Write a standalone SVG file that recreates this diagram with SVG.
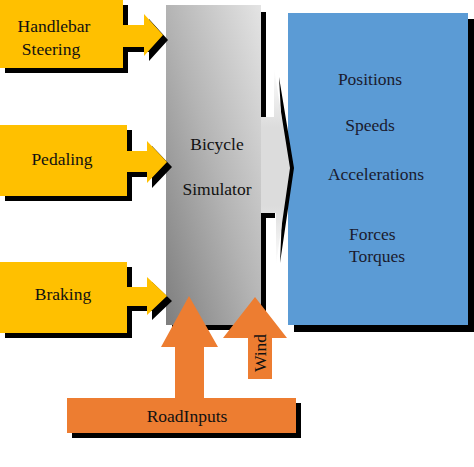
<svg xmlns="http://www.w3.org/2000/svg" width="474" height="467" viewBox="0 0 474 467">
<defs>
<linearGradient id="gray" x1="0" y1="1" x2="1" y2="0">
<stop offset="0" stop-color="#7e7e7e"/>
<stop offset="0.5" stop-color="#b4b4b4"/>
<stop offset="1" stop-color="#e4e4e4"/>
</linearGradient>
<linearGradient id="out" x1="0" y1="0" x2="0" y2="1">
<stop offset="0" stop-color="#ffffff"/>
<stop offset="0.3" stop-color="#dcdcdc"/>
<stop offset="0.7" stop-color="#dcdcdc"/>
<stop offset="1" stop-color="#ffffff"/>
</linearGradient>
<style>
text{font-family:'Liberation Serif','DejaVu Serif',serif;font-size:17.5px}
.t{fill:#111}
.tb{fill:#1a1a2e}
.yel{fill:#ffc000}
.ora{fill:#ed7d31}
.sh{fill:#000}
</style>
</defs>
<rect width="474" height="467" fill="#fff"/>

<g id="outputs">
<rect class="sh" x="294" y="19" width="180" height="313"/>
<rect x="288" y="13" width="180" height="312" fill="#5b9bd5"/>
<text class="tb" font-family="Liberation Serif, serif" x="370" y="85" text-anchor="middle">Positions</text>
<text class="tb" font-family="Liberation Serif, serif" x="370" y="131" text-anchor="middle">Speeds</text>
<text class="tb" font-family="Liberation Serif, serif" x="376" y="180" text-anchor="middle">Accelerations</text>
<text class="tb" font-family="Liberation Serif, serif" x="349" y="240">Forces</text>
<text class="tb" font-family="Liberation Serif, serif" x="349" y="262">Torques</text>
</g>

<g id="simulator">
<rect class="sh" x="172" y="12" width="94" height="318"/>
<rect x="166" y="5" width="95" height="320" fill="url(#gray)"/>
<text class="t" font-family="Liberation Serif, serif" x="217" y="150" text-anchor="middle">Bicycle</text>
<text class="t" font-family="Liberation Serif, serif" x="217" y="195" text-anchor="middle">Simulator</text>
</g>

<g id="connectors">
<rect x="261" y="117" width="14" height="96" fill="#fff"/>
<polygon class="sh" points="279,77 294,168 280,263 284,168"/>
<polygon fill="url(#out)" points="261,117 274,117 274,68 290,168 276,265 276,213 261,213"/>
<rect class="sh" x="261" y="213" width="14" height="5"/>
</g>

<g id="steering">
<polygon class="sh" points="5,5 128,5 128,30 149,30 149,19 168,40 149,61 149,52 128,52 128,73 5,73"/>
<polygon class="yel" points="0,0 123,0 123,25 144,25 144,14 163,35 144,56 144,47 123,47 123,68 0,68"/>
<text class="t" font-family="Liberation Serif, serif" x="54" y="32" text-anchor="middle">Handlebar</text>
<text class="t" font-family="Liberation Serif, serif" x="51" y="55" text-anchor="middle">Steering</text>
</g>

<g id="pedaling">
<polygon class="sh" points="5,130 132,130 132,156 152,156 152,146 172,167 152,188 152,177 132,177 132,201 5,201"/>
<polygon class="yel" points="0,125 127,125 127,151 147,151 147,141 167,162 147,183 147,172 127,172 127,196 0,196"/>
<text class="t" font-family="Liberation Serif, serif" x="62" y="165" text-anchor="middle">Pedaling</text>
</g>

<g id="braking">
<polygon class="sh" points="5,267 132,267 132,292 152,292 152,282 172,301 152,320 152,311 132,311 132,338 5,338"/>
<polygon class="yel" points="0,262 127,262 127,287 147,287 147,277 167,296 147,315 147,306 127,306 127,333 0,333"/>
<text class="t" font-family="Liberation Serif, serif" x="63" y="300" text-anchor="middle">Braking</text>
</g>

<g id="road">
<rect class="sh" x="72" y="403" width="229" height="35"/>
<rect class="ora" x="67" y="398" width="229" height="35"/>
<polygon class="ora" points="175,399 175,347 161,347 189,296 218,347 204,347 204,399"/>
<text class="t" font-family="Liberation Serif, serif" x="187" y="422" text-anchor="middle">RoadInputs</text>
</g>

<g id="wind">
<polygon class="ora" points="248,379 248,338 223,338 255,297 287,338 272,338 272,379"/>
<text class="t" font-family="Liberation Serif, serif" x="0" y="0" text-anchor="middle" transform="translate(266,353) rotate(-90)">Wind</text>
</g>
</svg>
